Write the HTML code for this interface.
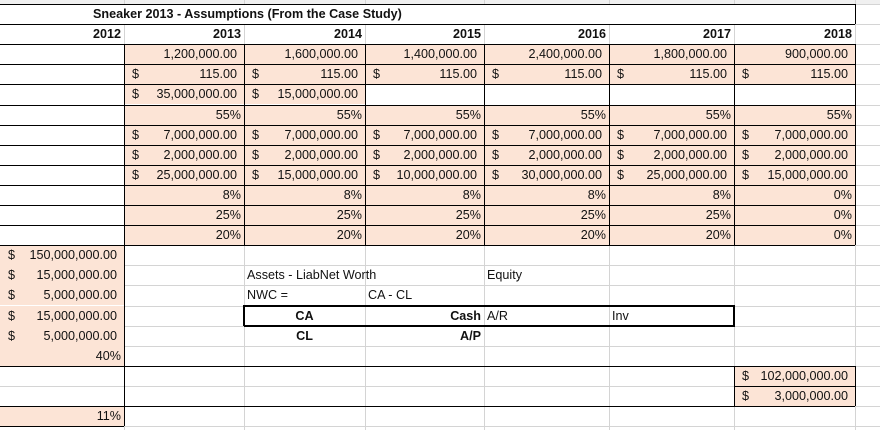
<!DOCTYPE html>
<html><head><meta charset="utf-8">
<style>
html,body{margin:0;padding:0;background:#fff;}
#sheet{position:relative;width:880px;height:430px;overflow:hidden;font-family:"Liberation Sans",sans-serif;font-size:12.6px;color:#111;}
.c{position:absolute;box-sizing:border-box;white-space:nowrap;line-height:21px;}
.ln{position:absolute;}
</style></head>
<body>
<div id="sheet"></div>
<script>
const colX=[0,124,244,365,484,609,734,855,880];
const rowTop=k=>4+20.1*k;
const years=["2012","2013","2014","2015","2016","2017","2018"];
const units=["1,200,000.00","1,600,000.00","1,400,000.00","2,400,000.00","1,800,000.00","900,000.00"];
const price=["115.00","115.00","115.00","115.00","115.00","115.00"];
const capex=["35,000,000.00","15,000,000.00","","","",""];
const pct55=["55%","55%","55%","55%","55%","55%"];
const fixed7=["7,000,000.00","7,000,000.00","7,000,000.00","7,000,000.00","7,000,000.00","7,000,000.00"];
const fixed2=["2,000,000.00","2,000,000.00","2,000,000.00","2,000,000.00","2,000,000.00","2,000,000.00"];
const big=["25,000,000.00","15,000,000.00","10,000,000.00","30,000,000.00","25,000,000.00","15,000,000.00"];
const p8=["8%","8%","8%","8%","8%","0%"];
const p25=["25%","25%","25%","25%","25%","0%"];
const p20=["20%","20%","20%","20%","20%","0%"];
const colA=["150,000,000.00","15,000,000.00","5,000,000.00","15,000,000.00","5,000,000.00"];
const S=document.getElementById('sheet');
const FILL="#fce4d6",GRID="#d4d4d4";
function line(x,y,w,h,col){const d=document.createElement('div');d.className='ln';


d.style.cssText=`left:${x}px;top:${y}px;width:${w}px;height:${h}px;background:${col}`;S.appendChild(d);}
function fill(c,r,col){const d=document.createElement('div');d.className='c';


d.style.cssText=`left:${colX[c]}px;top:${rowTop(r)}px;width:${colX[c+1]-colX[c]}px;height:20.1px;background:${col}`;S.appendChild(d);}
function text(c,r,t,align,bold,name,pad,lpad){const d=document.createElement('div');d.className='c';


const w=colX[c+1]-colX[c];
d.style.cssText=`left:${colX[c]}px;top:${rowTop(r)}px;width:${w}px;height:20px;text-align:${align};padding:0 ${pad==null?3:pad}px 0 ${lpad==null?3:lpad}px;font-weight:${bold?'bold':'normal'}`;
d.textContent=t;S.appendChild(d);}
function money(c,r,v,name){if(!v)return;text(c,r,"$","left",false,name+'-symbol',0,8);text(c,r,v,"right",false,name,7);}
line(0,0,880,4,"#f0f0f0");
for(let i=1;i<colX.length-1;i++)line(colX[i],0,1,430,GRID);
for(let k=0;k<22;k++)line(0,Math.round(rowTop(k)),880,1,GRID);
for(let r=2;r<=11;r++)for(let c=1;c<=6;c++){if(r===4&&c>2)continue;fill(c,r,FILL);}
for(let r=12;r<=17;r++)fill(0,r,FILL);
fill(6,18,FILL);fill(6,19,FILL);fill(0,20,FILL);
const t=document.createElement('div');t.className='c';


t.style.cssText=`left:0;top:${rowTop(0)+1}px;width:855px;height:19px;background:#fff`;S.appendChild(t);
const B="#000";
line(0,Math.round(rowTop(0)),856,1,B);
for(let k=1;k<=12;k++)line(0,Math.round(rowTop(k)),855,1,B);
line(855,Math.round(rowTop(0)),1,Math.round(rowTop(1)-rowTop(0)),B);
for(let c=1;c<=7;c++)line(colX[c],Math.round(rowTop(2)),1,Math.round(rowTop(12)-rowTop(2)),B);
line(124,Math.round(rowTop(12)),1,Math.round(rowTop(21)-rowTop(12)),B);
line(0,Math.round(rowTop(18)),855,1,B);
line(0,Math.round(rowTop(20)),855,1,B);
line(0,Math.round(rowTop(21)),124,1,B);
line(734,Math.round(rowTop(18)),1,Math.round(rowTop(20)-rowTop(18)),B);
line(855,Math.round(rowTop(18)),1,Math.round(rowTop(20)-rowTop(18)),B);
line(734,Math.round(rowTop(19)),121,1,B);
line(244,Math.round(rowTop(15))-1,491,2,B);
line(244,Math.round(rowTop(16))-1,491,2,B);
line(243,Math.round(rowTop(15))-1,2,21,B);
line(733,Math.round(rowTop(15))-1,2,21,B);
const ti=document.createElement('div');ti.className='c';


ti.style.cssText=`left:93px;top:${rowTop(0)}px;font-weight:bold;`;
ti.textContent="Sneaker 2013 - Assumptions (From the Case Study)";S.appendChild(ti);
years.forEach((y,i)=>text(i,1,y,"right",true,"year-header-"+y,3));
units.forEach((v,i)=>text(i+1,2,v,"right",false,"units-cell",7));
price.forEach((v,i)=>money(i+1,3,v,"price-cell"));
capex.forEach((v,i)=>money(i+1,4,v,"capex-cell"));
pct55.forEach((v,i)=>text(i+1,5,v,"right",false,"cogs-pct-cell",3));
fixed7.forEach((v,i)=>money(i+1,6,v,"fixed-cost-cell"));
fixed2.forEach((v,i)=>money(i+1,7,v,"overhead-cell"));
big.forEach((v,i)=>money(i+1,8,v,"investment-cell"));
p8.forEach((v,i)=>text(i+1,9,v,"right",false,"pct8-cell",3));
p25.forEach((v,i)=>text(i+1,10,v,"right",false,"pct25-cell",3));
p20.forEach((v,i)=>text(i+1,11,v,"right",false,"pct20-cell",3));
colA.forEach((v,i)=>money(0,12+i,v,"col-a-value"));
text(0,17,"40%","right",false,"tax-rate-cell",3);
text(0,20,"11%","right",false,"discount-rate-cell",3);
money(6,18,"102,000,000.00","total-value-cell");
money(6,19,"3,000,000.00","salvage-cell");
text(2,13,"Assets - LiabNet Worth","left",false,"note-assets",3);
text(4,13,"Equity","left",false,"note-equity",3);
text(2,14,"NWC =","left",false,"note-nwc",3);
text(3,14,"CA - CL","left",false,"note-ca-cl",3);
text(2,15,"CA","center",true,"label-ca",3);
text(3,15,"Cash","right",true,"label-cash",3);
text(4,15,"A/R","left",false,"label-ar",3);
text(5,15,"Inv","left",false,"label-inv",3);
text(2,16,"CL","center",true,"label-cl",3);
text(3,16,"A/P","right",true,"label-ap",3);
</script>
</body></html>
